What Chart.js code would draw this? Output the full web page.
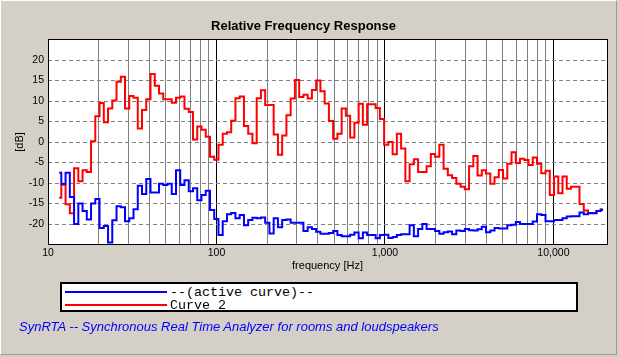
<!DOCTYPE html>
<html>
<head>
<meta charset="utf-8">
<script src="https://cdn.jsdelivr.net/npm/chart.js@4.4.1/dist/chart.umd.min.js"></script>
<style>
  html, body { margin: 0; padding: 0; width: 619px; height: 357px; overflow: hidden; background: #d4d0c8; }
  #frame { position: absolute; left: 0; top: 0; width: 615px; height: 353px;
           border-left: 1px solid #ffffff; border-top: 1px solid #ffffff;
           border-right: 1px solid #9c9c9c; border-bottom: 1px solid #9c9c9c; }
  #c { position: absolute; left: 0; top: 0; }
  #legend { position: absolute; left: 60px; top: 282px; width: 514px; height: 26px;
            border: 2px solid #000; background: #fff; }
  #legend .row { position: absolute; left: 0; width: 514px; height: 13px; }
  #legend .swatch { position: absolute; left: 3px; width: 102px; height: 2px; }
  #legend .txt { position: absolute; left: 108px; top: 0; height: 13px; line-height: 13px;
                 font-family: "Liberation Mono", "Courier New", monospace; font-size: 13.33px;
                 color: #000; white-space: pre; }
  #footer { position: absolute; left: 19px; top: 319px; line-height: 15px;
            font-family: "Liberation Sans", Arial, sans-serif; font-size: 13px; font-style: italic;
            color: #0000ff; white-space: nowrap; }
</style>
</head>
<body>
<div id="frame"></div>
<canvas id="c" width="619" height="357"></canvas>
<div id="legend"></div>
<div id="footer">SynRTA -- Synchronous Real Time Analyzer for rooms and loudspeakers</div>
<script>
// ---- data ----
const freqHz = [
  11.65, 12.35, 13.09, 13.87, 14.70, 15.58, 16.51, 17.49, 18.54, 19.65,
  20.82, 22.07, 23.39, 24.78, 26.27, 27.84, 29.50, 31.26, 33.13, 35.11,
  37.21, 39.43, 41.79, 44.29, 46.93, 49.74, 52.71, 55.86, 59.20, 62.74,
  66.49, 70.46, 74.68, 79.14, 83.87, 88.88, 94.20, 99.83, 105.8, 112.1,
  118.8, 125.9, 133.4, 141.4, 149.9, 158.8, 168.3, 178.4, 189.0, 200.3,
  212.3, 225.0, 238.5, 252.7, 267.8, 283.8, 300.8, 318.8, 337.8, 358.0,
  379.4, 402.1, 426.1, 451.6, 478.6, 507.2, 537.5, 569.6, 603.6, 639.7,
  678.0, 718.5, 761.4, 806.9, 855.1, 906.3, 960.4, 1018, 1079, 1143,
  1211, 1284, 1361, 1442, 1528, 1619, 1716, 1819, 1928, 2043,
  2165, 2294, 2431, 2577, 2731, 2894, 3067, 3250, 3444, 3650,
  3868, 4100, 4345, 4604, 4879, 5171, 5480, 5808, 6155, 6523,
  6913, 7326, 7764, 8228, 8719, 9241, 9793, 10378, 10998, 11656,
  12352, 13091, 13873, 14702, 15581, 16512, 17499, 18545, 19654
];

const activeCurve = [
  -7.5, -10.2, -7.5, -13.4, -20.0, -15.0, -16.8, -18.9, -15.0, -13.9,
  -21.0, -20.5, -24.5, -19.1, -15.7, -15.9, -19.3, -18.6, -16.4, -10.7,
  -12.7, -9.0, -12.3, -12.3, -10.2, -10.5, -10.2, -12.7, -6.9, -10.5,
  -9.3, -12.0, -11.3, -14.2, -12.9, -11.9, -16.6, -18.8, -22.7, -19.3,
  -17.6, -17.3, -18.6, -17.8, -20.3, -19.0, -18.5, -18.6, -18.4, -19.7,
  -22.3, -18.6, -20.8, -19.0, -18.9, -19.7, -19.7, -19.7, -21.7, -20.8,
  -21.2, -21.9, -22.4, -22.4, -22.2, -21.7, -22.7, -23.0, -23.0, -22.6,
  -22.1, -23.5, -22.1, -22.7, -22.7, -23.5, -22.7, -22.6, -23.4, -23.2,
  -22.7, -22.5, -22.5, -20.3, -23.0, -21.2, -20.0, -21.2, -21.2, -21.7,
  -22.4, -22.0, -21.8, -22.5, -21.6, -21.7, -21.2, -21.5, -21.6, -21.3,
  -20.7, -22.0, -21.6, -21.0, -21.1, -21.1, -20.3, -20.2, -19.5, -20.0,
  -20.0, -20.0, -19.4, -17.6, -17.8, -19.3, -19.3, -19.0, -19.0, -18.6,
  -18.2, -18.1, -18.1, -17.2, -17.6, -17.4, -17.4, -16.8, -16.6
];

const curve2 = [
  -13.6, -10.4, -15.2, -17.4, -6.4, -9.6, -6.9, -7.3, 0.2, 6.3,
  9.5, 4.8, 8.2, 10.1, 14.7, 15.9, 8.2, 11.2, 10.8, 3.3,
  7.8, 10.4, 16.6, 13.7, 11.8, 10.4, 10.4, 9.6, 10.8, 11.1,
  8.1, 7.3, 0.6, 3.8, 3.0, 1.3, -3.6, -4.3, -0.7, 2.0,
  2.4, 5.2, 10.7, 11.1, 3.9, 2.0, -0.3, 10.7, 12.6, 9.0,
  9.0, 1.8, -3.1, 1.6, 6.5, 10.6, 15.1, 11.0, 11.5, 10.6,
  12.7, 15.0, 12.4, 9.4, 5.1, 0.8, 2.0, 8.2, 6.4, 1.1,
  4.7, 9.3, 4.2, 9.2, 9.2, 8.3, 5.6, -0.7, 0.0, -3.0,
  2.0, -1.6, -9.6, -5.4, -4.2, -7.3, -7.3, -5.9, -2.9, -3.6,
  -0.7, -6.5, -8.1, -8.8, -10.2, -10.9, -11.5, -5.9, -3.4, -8.2,
  -6.9, -7.7, -10.2, -8.6, -6.8, -8.9, -5.3, -2.5, -5.1, -4.1,
  -4.4, -5.6, -3.8, -5.3, -7.6, -7.0, -12.9, -8.4, -12.5, -8.4,
  -11.4, -10.9, -10.9, -15.1, -16.7, -17.3, -17.3, -16.8, -16.4
];

const seriesNames = ['--(active curve)--', 'Curve 2'];
const xGridValues = [10, 20, 30, 40, 50, 60, 70, 80, 90,
                     100, 200, 300, 400, 500, 600, 700, 800, 900,
                     1000, 2000, 3000, 4000, 5000, 6000, 7000, 8000, 9000, 10000];
const xTickLabels = { 10: '10', 100: '100', 1000: '1,000', 10000: '10,000' };
const yTickLabels = [-20, -15, -10, -5, 0, 5, 10, 15, 20];

// ---- plugins ----
const plotFrame = {
  id: 'plotFrame',
  beforeDraw(chart) {
    const { ctx, chartArea: a } = chart;
    ctx.save();
    ctx.fillStyle = '#ffffff';
    ctx.fillRect(a.left, a.top, a.right - a.left, a.bottom - a.top);
    ctx.restore();
  },
  afterDraw(chart) {
    const { ctx, chartArea: a } = chart;
    ctx.save();
    ctx.strokeStyle = '#000000';
    ctx.lineWidth = 1;
    ctx.strokeRect(Math.floor(a.left) + 0.5, Math.floor(a.top) + 0.5,
                   Math.round(a.right - a.left), Math.round(a.bottom - a.top));
    ctx.restore();
  }
};

const htmlLegend = {
  id: 'htmlLegend',
  afterUpdate(chart) {
    const box = document.getElementById('legend');
    box.innerHTML = '';
    const items = chart.options.plugins.legend.labels.generateLabels(chart);
    items.forEach((it, i) => {
      const row = document.createElement('div');
      row.className = 'row';
      row.style.top = (2 + i * 12.7) + 'px';
      const sw = document.createElement('div');
      sw.className = 'swatch';
      sw.style.top = '5px';
      sw.style.background = it.strokeStyle;
      const tx = document.createElement('div');
      tx.className = 'txt';
      tx.textContent = it.text;
      row.appendChild(sw);
      row.appendChild(tx);
      box.appendChild(row);
    });
  }
};

const FONT = '"Liberation Sans", Arial, sans-serif';
const decades = [100, 1000, 10000];

new Chart(document.getElementById('c'), {
  type: 'line',
  data: {
    datasets: [
      {
        label: seriesNames[0],
        data: freqHz.map((f, i) => ({ x: f, y: activeCurve[i] })),
        borderColor: '#0000ff', backgroundColor: '#0000ff',
        borderWidth: 2, stepped: 'middle', pointRadius: 0, fill: false
      },
      {
        label: seriesNames[1],
        data: freqHz.map((f, i) => ({ x: f, y: curve2[i] })),
        borderColor: '#ff0000', backgroundColor: '#ff0000',
        borderWidth: 2, stepped: 'middle', pointRadius: 0, fill: false
      }
    ]
  },
  options: {
    responsive: false,
    animation: false,
    devicePixelRatio: 1,
    events: [],
    layout: { padding: { left: 0, right: 12, top: 0, bottom: 82 } },
    plugins: {
      legend: { display: false },
      tooltip: { enabled: false },
      title: {
        display: true,
        text: 'Relative Frequency Response',
        color: '#000000',
        font: { family: FONT, size: 13, weight: 'bold', lineHeight: 1.2 },
        padding: { top: 18.2, bottom: 5.7 }
      }
    },
    scales: {
      x: {
        type: 'logarithmic',
        position: 'bottom',
        min: 10,
        max: 20800,
        afterBuildTicks: (s) => { s.ticks = xGridValues.map(v => ({ value: v })); },
        afterFit: (s) => { s.height = 30.5; },
        ticks: {
          autoSkip: false, maxRotation: 0, minRotation: 0, padding: 2,
          color: '#000000', font: { family: FONT, size: 10.5 },
          callback: (v) => (xTickLabels[v] !== undefined ? xTickLabels[v] : '')
        },
        grid: {
          drawTicks: false, lineWidth: 1,
          color: (c) => (c.tick && c.tick.value === 10 ? 'rgba(0,0,0,0)' : '#000000')
        },
        border: {
          display: false,
          dash: (c) => (c.tick && decades.includes(c.tick.value) ? [] : [1, 1])
        },
        title: {
          display: true, text: 'frequency [Hz]', color: '#000000',
          font: { family: FONT, size: 11, lineHeight: 1.2 },
          padding: { top: 0, bottom: 2.4 }
        }
      },
      y: {
        min: -25,
        max: 25,
        afterFit: (s) => { s.width = 48; },
        afterBuildTicks: (s) => {
          s.ticks = [{ value: -25 }].concat(yTickLabels.map(v => ({ value: v })), [{ value: 25 }]);
        },
        ticks: {
          padding: 4, color: '#000000', font: { family: FONT, size: 10.5 },
          callback: (v) => (yTickLabels.includes(v) ? String(v) : '')
        },
        grid: {
          drawTicks: false, lineWidth: 1,
          color: (c) => (c.tick && Math.abs(c.tick.value) === 25 ? 'rgba(0,0,0,0)' : '#808080')
        },
        border: { display: false, dash: [4, 3] },
        title: {
          display: true, text: '[dB]', color: '#000000',
          font: { family: FONT, size: 11, lineHeight: 1.2 },
          padding: { top: 13.4, bottom: 0 }
        }
      }
    }
  },
  plugins: [plotFrame, htmlLegend]
});
</script>
</body>
</html>
